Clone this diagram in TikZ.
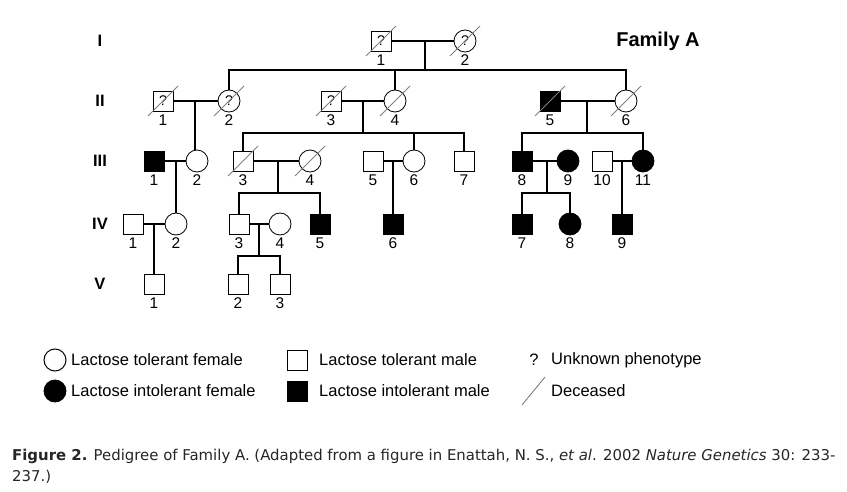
\documentclass[tikz,border=0pt]{standalone}
\usepackage{fontspec}
\setmainfont{Liberation Sans}
\newfontfamily\capfont{DejaVu Sans}
\usetikzlibrary{calc}
\begin{document}
\begin{tikzpicture}[x=1pt,y=-1pt,
  ln/.style={line width=1.3pt},
  male/.style={draw,line width=0.8pt,minimum size=20pt,inner sep=0pt,font=\fontsize{14}{14}\selectfont},
  female/.style={draw,circle,line width=0.8pt,minimum size=22pt,inner sep=0pt,font=\fontsize{14}{14}\selectfont},
  aff/.style={fill=black},
  num/.style={font=\fontsize{15.5}{15.5}\selectfont,inner sep=0pt},
  gen/.style={font=\bfseries\fontsize{16.5}{16.5}\selectfont},
  decl/.style={gray,line width=0.9pt},
  leg/.style={font=\fontsize{16.5}{16.5}\selectfont,anchor=west,inner sep=0pt}]
\useasboundingbox (0,0) rectangle (847,492);
\fill[white] (0,0) rectangle (847,492);
\newcommand\dec[1]{\draw[decl] ($(#1)+(-15,15)$) -- ($(#1)+(15,-15)$);}
\newcommand\lab[3]{\node[num] (l#1) at ($(#1)+(#2,19)$) {#3};}
% generation labels
\foreach \t/\y in {I/41,II/101,III/161,IV/224,V/284} \node[gen] (g\t) at (100,\y) {\t};
\node[font=\bfseries\fontsize{20}{20}\selectfont] (fam) at (658,41) {Family A};
% Gen I
\node[male] (i1) at (381,41) {?}; \node[female] (i2) at (465,41) {?};
% Gen II
\node[male] (ii1) at (163,101) {?}; \node[female] (ii2) at (229,101) {?};
\node[male] (ii3) at (331,101) {?}; \node[female] (ii4) at (395,101) {};
\node[male,aff] (ii5) at (550,101) {}; \node[female] (ii6) at (626,101) {};
% Gen III
\node[male,aff] (iii1) at (154,161) {}; \node[female] (iii2) at (197,161) {};
\node[male] (iii3) at (243,161) {}; \node[female] (iii4) at (310,161) {};
\node[male] (iii5) at (373,161) {}; \node[female] (iii6) at (414,161) {};
\node[male] (iii7) at (464,161) {};
\node[male,aff] (iii8) at (522,161) {}; \node[female,aff] (iii9) at (568,161) {};
\node[male] (iii10) at (602,161) {}; \node[female,aff] (iii11) at (643,161) {};
% Gen IV
\node[male] (iv1) at (133,224) {}; \node[female] (iv2) at (176,224) {};
\node[male] (iv3) at (239,224) {}; \node[female] (iv4) at (280,224) {};
\node[male,aff] (iv5) at (320,224) {}; \node[male,aff] (iv6) at (393,224) {};
\node[male,aff] (iv7) at (522,224) {}; \node[female,aff] (iv8) at (570,224) {};
\node[male,aff] (iv9) at (622,224) {};
% Gen V
\node[male] (v1) at (154,284) {}; \node[male] (v2) at (238,284) {}; \node[male] (v3) at (280,284) {};
% deceased
\foreach \n in {i1,i2,ii1,ii2,ii3,ii4,ii5,ii6,iii3,iii4} {\dec{\n}}
% numbers
\lab{i1}{0}{1}\lab{i2}{0}{2}
\lab{ii1}{0}{1}\lab{ii2}{0}{2}\lab{ii3}{0}{3}\lab{ii4}{0}{4}\lab{ii5}{0}{5}\lab{ii6}{0}{6}
\lab{iii1}{0}{1}\lab{iii2}{0}{2}\lab{iii3}{0}{3}\lab{iii4}{0}{4}\lab{iii5}{0}{5}\lab{iii6}{0}{6}\lab{iii7}{0}{7}
\lab{iii8}{0}{8}\lab{iii9}{0}{9}\lab{iii10}{0}{10}\lab{iii11}{0}{11}
\lab{iv1}{0}{1}\lab{iv2}{0}{2}\lab{iv3}{0}{3}\lab{iv4}{0}{4}\lab{iv5}{0}{5}\lab{iv6}{0}{6}\lab{iv7}{0}{7}\lab{iv8}{0}{8}\lab{iv9}{0}{9}
\lab{v1}{0}{1}\lab{v2}{0}{2}\lab{v3}{0}{3}
% Gen I family
\draw[ln] (i1) -- (i2);
\coordinate (mI) at (425,41); \coordinate (sI) at (425,70);
\draw[ln] (mI) -- (sI);
\draw[ln] (ii2.north) |- (sI) -| (ii6.north);
\draw[ln] (ii4.north) -- (ii4.north |- sI);
% II-1 x II-2
\draw[ln] (ii1) -- (ii2);
\coordinate (m1) at (195,101);
\draw[ln] (m1) -- (m1 |- iii2.north);
% II-3 x II-4
\draw[ln] (ii3) -- (ii4);
\coordinate (m2) at (363,101); \coordinate (s2) at (363,133);
\draw[ln] (m2) -- (s2);
\draw[ln] (iii3.north) |- (s2) -| (iii7.north);
\draw[ln] (iii6.north) -- (iii6.north |- s2);
% II-5 x II-6
\draw[ln] (ii5) -- (ii6);
\coordinate (m3) at (587,101); \coordinate (s3) at (587,133);
\draw[ln] (m3) -- (s3);
\draw[ln] (iii8.north) |- (s3) -| (iii11.north);
% III matings
\draw[ln] (iii1) -- (iii2);
\coordinate (m4) at (176,161);
\draw[ln] (m4) -- (m4 |- iv2.north);
\draw[ln] (iii3) -- (iii4);
\coordinate (m5) at (278,161); \coordinate (s5) at (278,193);
\draw[ln] (m5) -- (s5);
\draw[ln] (iv3.north) |- (s5) -| (iv5.north);
\draw[ln] (iii5) -- (iii6);
\coordinate (m6) at (393,161);
\draw[ln] (m6) -- (iv6.north);
\draw[ln] (iii8) -- (iii9);
\coordinate (m7) at (547,161); \coordinate (s7) at (547,193);
\draw[ln] (m7) -- (s7);
\draw[ln] (iv7.north) |- (s7) -| (iv8.north);
\draw[ln] (iii10) -- (iii11);
\coordinate (m8) at (622,161);
\draw[ln] (m8) -- (iv9.north);
% IV matings
\draw[ln] (iv1) -- (iv2);
\coordinate (m9) at (154,224);
\draw[ln] (m9) -- (v1.north);
\draw[ln] (iv3) -- (iv4);
\coordinate (m10) at (259,224); \coordinate (s10) at (259,256);
\draw[ln] (m10) -- (s10);
\draw[ln] (v2.north) |- (s10) -| (v3.north);
% legend
\node[female,line width=1pt] (lg1) at (55,360) {};
\node[leg] (lt1) at (71,360) {Lactose tolerant female};
\node[female,aff] (lg2) at (55,391) {};
\node[leg] (lt2) at (71,391) {Lactose intolerant female};
\node[male,line width=1pt] (lg3) at (297,360) {};
\node[leg] (lt3) at (319,360) {Lactose tolerant male};
\node[male,aff] (lg4) at (297,391) {};
\node[leg] (lt4) at (319,391) {Lactose intolerant male};
\node[font=\fontsize{16.5}{16.5}\selectfont] (lg5) at (534,360) {?};
\node[leg] (lt5) at (551,360) {Unknown phenotype};
\coordinate (dA) at (522,405); \coordinate (dB) at (545,377);
\draw[decl] (dA) -- (dB);
\node[leg] (lt6) at (551,391) {Deceased};
% caption
\node[anchor=north west,inner sep=0pt,align=left,font=\capfont\fontsize{14.9}{21}\selectfont,text=black!85] (cap) at (12,449)
 {\textbf{Figure 2.} Pedigree of Family A. (Adapted from a figure in Enattah, N. S., \textit{et al}. 2002 \textit{Nature Genetics} 30: 233-\\237.)};
\end{tikzpicture}
\end{document}
